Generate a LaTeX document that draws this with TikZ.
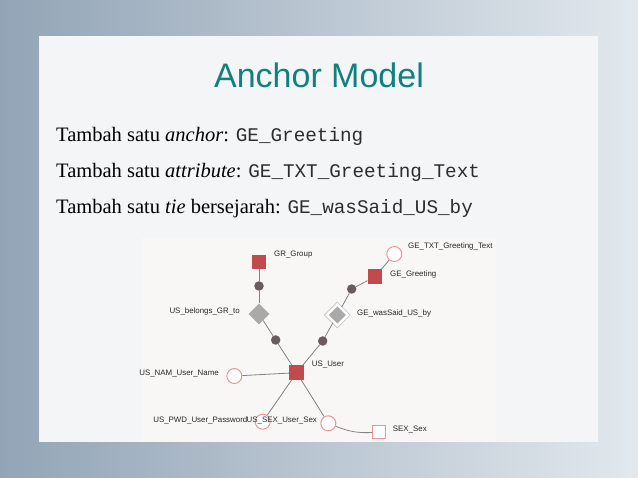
\documentclass[tikz,border=0pt]{standalone}
\usepackage{fontspec}
\setmainfont{Liberation Serif}
\setsansfont{Liberation Sans}
\setmonofont{Liberation Mono}
\usepackage{tikz}
\usetikzlibrary{positioning,shapes.geometric}
\definecolor{bgdark}{RGB}{146,164,182}
\definecolor{bglight}{RGB}{226,232,237}
\definecolor{slidewhite}{RGB}{243,245,247}
\definecolor{insetbg}{RGB}{248,247,245}
\definecolor{titleteal}{RGB}{18,128,124}
\definecolor{anchorred}{RGB}{192,74,76}
\definecolor{knotdark}{RGB}{106,91,96}
\definecolor{tiegray}{RGB}{169,169,169}
\definecolor{attrpink}{RGB}{238,150,150}
\definecolor{edgegray}{RGB}{130,130,130}
\definecolor{labelgray}{RGB}{40,40,40}
\definecolor{codegray}{RGB}{45,45,45}
\tikzset{
  anchorbox/.style={rectangle, fill=anchorred, minimum size=14.5pt, inner sep=0pt},
  knotdot/.style={circle, fill=knotdark, minimum size=9.5pt, inner sep=0pt},
  attrcircle/.style={circle, draw=attrpink, fill=white, line width=1pt, minimum size=15pt, inner sep=0pt},
  knotbox/.style={rectangle, draw=attrpink, fill=white, line width=1pt, minimum size=13pt, inner sep=0pt},
  tiediamond/.style={diamond, fill=tiegray, minimum size=21pt, inner sep=0pt},
  histtie/.style={diamond, fill=tiegray, draw=white, line width=2.5pt, minimum size=22pt, inner sep=0pt,
                  preaction={draw=tiegray!70, line width=4pt}}, % thin grey rim round the white band
  lbl/.style={font=\fontsize{7.9}{9}\sffamily, text=labelgray, inner sep=0pt},
  link/.style={draw=edgegray, line width=0.8pt},
  bodyline/.style={anchor=base west, inner sep=0pt, font=\fontsize{20.5}{24}\selectfont},
}
\newcommand{\codeword}[1]{{\fontsize{19.3}{24}\ttfamily\color{codegray}#1}}

\begin{document}
\begin{tikzpicture}[x=1pt, y=-1pt]
  \useasboundingbox (0,0) rectangle (638,478);
  \shade[left color=bgdark, right color=bglight] (0,0) rectangle (638,478);
  \fill[slidewhite] (39,36) rectangle (598,442);
  \fill[insetbg] (141,238) rectangle (496,442);

  \node[font=\fontsize{34}{40}\sffamily, text=titleteal, anchor=base] (title) at (319,88) {Anchor Model};
  \node[bodyline] (line1) at (56,142) {Tambah satu \textit{anchor}: \codeword{GE\_Greeting}};
  \node[bodyline] (line2) at (56,178) {Tambah satu \textit{attribute}: \codeword{GE\_TXT\_Greeting\_Text}};
  \node[bodyline] (line3) at (56,214) {Tambah satu \textit{tie} bersejarah: \codeword{GE\_wasSaid\_US\_by}};

  % anchors, ties and attributes
  \node[anchorbox] (grgroup) at (259,262) {};
  \node[knotdot] (grknot) at (259,286) {};
  \node[tiediamond] (usbelongs) at (259,314) {};
  \node[knotdot] (usknotA) at (275.7,340) {};
  \node[anchorbox] (ususer) at (296.7,372.7) {};
  \node[attrcircle] (getxt) at (394.3,254) {};
  \node[anchorbox] (gegreeting) at (375,276.7) {};
  \node[knotdot] (geknot) at (351.7,289) {};
  \node[histtie] (gewassaid) at (337.3,315) {};
  \node[knotdot] (usknotB) at (322.7,341) {};
  \node[attrcircle] (usnam) at (234.3,376) {};
  \node[attrcircle] (uspwd) at (262.7,421.7) {};
  \node[attrcircle] (ussex) at (328.3,423.3) {};
  \node[knotbox] (sexsex) at (379,432.3) {};

  \draw[link] (grgroup) -- (grknot);
  \draw[link] (grknot) -- (usbelongs);
  \draw[link] (usbelongs) -- (usknotA);
  \draw[link] (usknotA) -- (ususer);
  \draw[link] (getxt) -- (gegreeting);
  \draw[link] (gegreeting) -- (geknot);
  \draw[link] (geknot) -- (gewassaid);
  \draw[link] (gewassaid) -- (usknotB);
  \draw[link] (usknotB) -- (ususer);
  \draw[link] (ususer) -- (usnam);
  \draw[link] (ususer) -- (uspwd);
  \draw[link] (ususer) -- (ussex);
  \draw[link] (ussex) to[bend right=12] (sexsex);

  \node[lbl, anchor=west] (grgrouplbl) at (274,255) {GR\_Group};
  \node[lbl, anchor=west] (getxtlbl) at (408,246.5) {GE\_TXT\_Greeting\_Text};
  \node[lbl, anchor=west] (gegreetinglbl) at (390,274) {GE\_Greeting};
  \node[lbl, anchor=west] (gewassaidlbl) at (357,313) {GE\_wasSaid\_US\_by};
  \node[lbl, anchor=east] (usbelongslbl) at (240,311) {US\_belongs\_GR\_to};
  \node[lbl, anchor=west] (ususerlbl) at (311.7,365) {US\_User};
  \node[lbl, anchor=east] (usnamlbl) at (219,374) {US\_NAM\_User\_Name};
  \node[lbl, anchor=east] (uspwdlbl) at (247.5,420) {US\_PWD\_User\_Password};
  \node[lbl, anchor=west] (ussexlbl) at (246.5,421) {US\_SEX\_User\_Sex};
  \node[lbl, anchor=west] (sexsexlbl) at (392.7,429.3) {SEX\_Sex};
\end{tikzpicture}
\end{document}
